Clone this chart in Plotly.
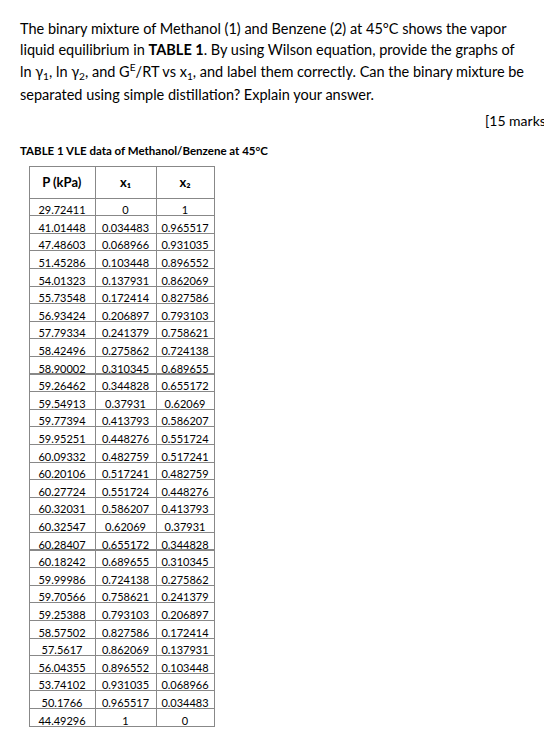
import plotly.graph_objects as go

pressure = ["29.72411", "41.01448", "47.48603", "51.45286", "54.01323", "55.73548", "56.93424",
            "57.79334", "58.42496", "58.90002", "59.26462", "59.54913", "59.77394", "59.95251",
            "60.09332", "60.20106", "60.27724", "60.32031", "60.32547", "60.28407", "60.18242",
            "59.99986", "59.70566", "59.25388", "58.57502", "57.5617", "56.04355", "53.74102",
            "50.1766", "44.49296"]
x1 = ["0", "0.034483", "0.068966", "0.103448", "0.137931", "0.172414", "0.206897", "0.241379",
      "0.275862", "0.310345", "0.344828", "0.37931", "0.413793", "0.448276", "0.482759",
      "0.517241", "0.551724", "0.586207", "0.62069", "0.655172", "0.689655", "0.724138",
      "0.758621", "0.793103", "0.827586", "0.862069", "0.896552", "0.931035", "0.965517", "1"]
x2 = ["1", "0.965517", "0.931035", "0.896552", "0.862069", "0.827586", "0.793103", "0.758621",
      "0.724138", "0.689655", "0.655172", "0.62069", "0.586207", "0.551724", "0.517241",
      "0.482759", "0.448276", "0.413793", "0.37931", "0.344828", "0.310345", "0.275862",
      "0.241379", "0.206897", "0.172414", "0.137931", "0.103448", "0.068966", "0.034483", "0"]
headers = ["<b>P (kPa)</b>", "<b>x₁</b>", "<b>x₂</b>"]

question = [
    "The binary mixture of Methanol (1) and Benzene (2) at 45°C shows the vapor",
    "liquid equilibrium in <b>TABLE 1</b>. By using Wilson equation, provide the graphs of",
    "ln γ<sub>1</sub>, ln γ<sub>2</sub>, and G<sup>E</sup>/RT vs x<sub>1</sub>, and label them correctly. Can the binary mixture be",
    "separated using simple distillation? Explain your answer.",
]

W, H = 552, 736
font = "Lato, Open Sans, sans-serif"

fig = go.Figure(go.Table(
    domain=dict(x=[21 / W, 206 / W], y=[1 - 722 / H, 1 - 158 / H]),
    columnwidth=[66, 61, 58],
    header=dict(values=headers, height=20, align="center", fill_color="white",
                line_color="#888", font=dict(family=font, size=13, color="black")),
    cells=dict(values=[pressure, x1, x2], height=17.6, align="center", fill_color="white",
               line_color="#888", font=dict(family=font, size=11, color="black")),
))

for i, line in enumerate(question):
    fig.add_annotation(x=10 / W, y=1 - (20 + 22 * i) / H, xref="paper", yref="paper",
                       text=line, showarrow=False, xanchor="left", yanchor="middle",
                       font=dict(family=font, size=14.5, color="black"))
fig.add_annotation(x=544 / W, y=1 - 113 / H, xref="paper", yref="paper", text="[15 marks]",
                   showarrow=False, xanchor="right", yanchor="middle",
                   font=dict(family=font, size=14, color="black"))
fig.add_annotation(x=10 / W, y=1 - 142 / H, xref="paper", yref="paper",
                   text="<b>TABLE 1 VLE data of Methanol/Benzene at 45°C</b>", showarrow=False,
                   xanchor="left", yanchor="middle",
                   font=dict(family=font, size=11.5, color="black"))

fig.update_layout(width=W, height=H, margin=dict(l=0, r=0, t=0, b=0),
                  paper_bgcolor="white", plot_bgcolor="white")
fig.write_html("out.html")
